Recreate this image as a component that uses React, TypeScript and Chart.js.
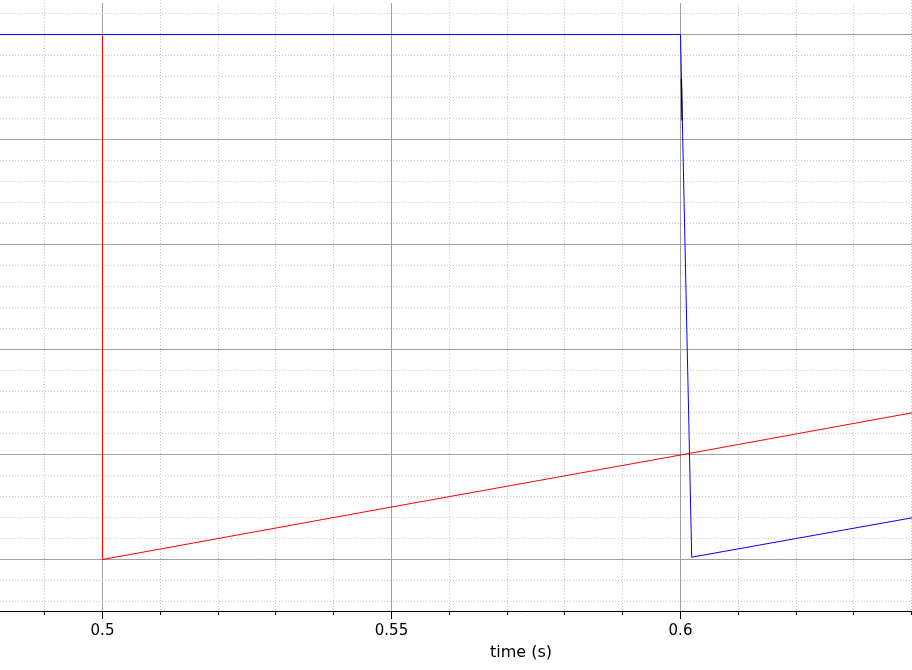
import React, { useEffect, useRef } from 'react';
import { Chart, registerables } from 'chart.js';

Chart.register(...registerables);

// Data (time in seconds, signal in grid units)
const timeRed = [0.5, 0.5, 0.55, 0.6, 0.64005];
const valueRed = [5, 0, 0.5, 0.995, 1.397];

const timeBlue = [0.48227, 0.6, 0.60194, 0.62, 0.64005];
const valueBlue = [5, 5, 0.022, 0.2, 0.397];

const timeBlack = [0.60015, 0.60027];
const valueBlack = [4.58, 4.18];

const xMajorTicks = [0.5, 0.55, 0.6, 0.65];
const xTickLabels = ['0.5', '0.55', '0.6', '0.65'];
const xMinorTicks = [0.49, 0.51, 0.52, 0.53, 0.54, 0.56, 0.57, 0.58, 0.59, 0.61, 0.62, 0.63, 0.64, 0.66];
const yMajorTicks = [0, 1, 2, 3, 4, 5];
const yMinorTicks = [-0.4, -0.2, 0.2, 0.4, 0.6, 0.8, 1.2, 1.4, 1.6, 1.8, 2.2, 2.4, 2.6, 2.8, 3.2, 3.4, 3.6, 3.8, 4.2, 4.4, 4.6, 4.8, 5.2];

// The reference is a crop of a wider plot: the visible part ends at about 0.640 s
const xRange = [0.482266, 0.662543];
const yRange = [-0.4904, 5.3];

const toPoints = (xs: number[], ys: number[]) => xs.map((x, i) => ({ x, y: ys[i] }));

export default function App() {
  const ref = useRef<HTMLCanvasElement | null>(null);

  useEffect(() => {
    document.body.style.margin = '0';
    document.body.style.overflow = 'hidden';
    if (!ref.current) return;
    const setTicks = (vals: number[]) => (axis: any) => {
      axis.ticks = vals.map((v) => ({ value: v }));
    };
    const lineDefaults = {
      borderWidth: 1,
      pointRadius: 0,
      tension: 0,
      xAxisID: 'x',
      yAxisID: 'y',
    };
    const chart = new Chart(ref.current, {
      type: 'line',
      data: {
        datasets: [
          { ...lineDefaults, data: toPoints(timeBlack, valueBlack), borderColor: '#000000', borderWidth: 1.3 },
          { ...lineDefaults, data: toPoints(timeBlue, valueBlue), borderColor: '#0000ff' },
          { ...lineDefaults, data: toPoints(timeRed, valueRed), borderColor: '#ff0000' },
        ],
      },
      options: {
        animation: false,
        responsive: false,
        events: [],
        layout: { padding: { top: 3, left: 0, right: 0, bottom: 0 } },
        plugins: {
          legend: { display: false },
          tooltip: { enabled: false },
        },
        scales: {
          xMinor: {
            type: 'linear',
            position: 'bottom',
            weight: 0,
            min: xRange[0],
            max: xRange[1],
            bounds: 'data',
            afterBuildTicks: setTicks(xMinorTicks),
            afterFit: (s: any) => {
              s.height = 0;
            },
            ticks: { display: false },
            grid: {
              color: '#c4c4c4',
              lineWidth: 1,
              drawTicks: true,
              tickLength: 4,
              tickColor: '#000000',
            },
            border: { display: false, dash: [1, 2] },
          },
          x: {
            type: 'linear',
            position: 'bottom',
            weight: 1,
            min: xRange[0],
            max: xRange[1],
            bounds: 'data',
            afterBuildTicks: setTicks(xMajorTicks),
            afterFit: (s: any) => {
              s.height = 59;
            },
            ticks: {
              padding: 3,
              color: '#000000',
              font: { family: 'DejaVu Sans', size: 15 },
              maxRotation: 0,
              autoSkip: false,
              callback: (_v: any, i: number) => xTickLabels[i],
            },
            grid: {
              color: '#a0a0a0',
              lineWidth: 1,
              drawTicks: true,
              tickLength: 8,
              tickColor: '#000000',
            },
            border: { display: true, color: '#000000', width: 1 },
            title: {
              display: true,
              text: 'time (s)',
              color: '#000000',
              font: { family: 'DejaVu Sans', size: 16 },
              padding: { top: 0, bottom: 8 },
            },
          },
          yMinor: {
            type: 'linear',
            position: 'left',
            min: yRange[0],
            max: yRange[1],
            bounds: 'data',
            afterBuildTicks: setTicks(yMinorTicks),
            afterFit: (s: any) => {
              s.width = 0;
            },
            ticks: { display: false },
            grid: { color: '#c4c4c4', lineWidth: 1, drawTicks: false },
            border: { display: false, dash: [1, 2] },
          },
          y: {
            type: 'linear',
            position: 'left',
            min: yRange[0],
            max: yRange[1],
            bounds: 'data',
            afterBuildTicks: setTicks(yMajorTicks),
            afterFit: (s: any) => {
              s.width = 0;
            },
            ticks: { display: false },
            grid: { color: '#a0a0a0', lineWidth: 1, drawTicks: false },
            border: { display: false },
          },
        },
      } as any,
    });
    return () => chart.destroy();
  }, []);

  return (
    <div style={{ width: 912, height: 670, position: 'relative', overflow: 'hidden', background: '#ffffff' }}>
      <canvas ref={ref} width={1042} height={670} style={{ display: 'block' }} />
    </div>
  );
}
